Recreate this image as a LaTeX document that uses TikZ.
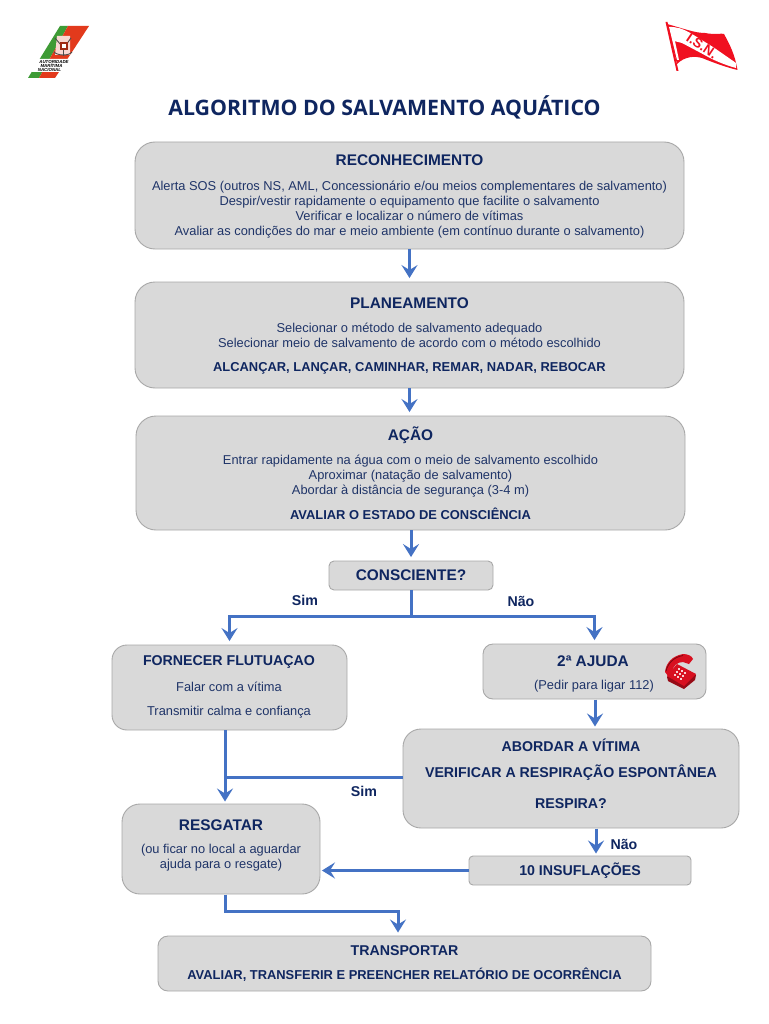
\documentclass[tikz,border=0pt]{standalone}
\usepackage{fontspec}
\setmainfont{Liberation Sans}
\newfontfamily\titlefont{Open Sans}
\usetikzlibrary{arrows.meta}
\definecolor{navy}{HTML}{0F2660}
\definecolor{bodytxt}{HTML}{1F3468}
\definecolor{boxfill}{HTML}{D9D9D9}
\definecolor{boxline}{HTML}{A8A8A8}
\definecolor{flow}{HTML}{4472C4}
\definecolor{lgreen}{HTML}{3E9B35}
\definecolor{lred}{HTML}{E23A1C}
\definecolor{flagred}{HTML}{F01020}
\definecolor{phonered}{HTML}{D81020}
\tikzset{
  x=1pt,y=-1pt,
  box/.style={draw=boxline,line width=0.9pt,fill=boxfill,inner sep=0pt},
  head/.style={inner sep=0pt,text=navy,font=\fontsize{14.2}{16}\selectfont\bfseries},
  headb/.style={inner sep=0pt,text=navy,font=\fontsize{15.4}{16}\selectfont\bfseries},
  sub/.style={inner sep=0pt,text=navy,font=\fontsize{12.9}{14}\selectfont\bfseries},
  txt/.style={inner sep=0pt,text=bodytxt,align=center,font=\fontsize{12.85}{15}\selectfont},
  lab/.style={inner sep=0pt,text=navy,font=\fontsize{14.2}{16}\selectfont\bfseries},
  link/.style={draw=flow,line width=3pt},
  arrow/.style={link,shorten >=3.5pt,-{Stealth[length=13pt,width=16pt,inset=5pt]}},
  lgtxt/.style={inner sep=0pt,text=black,font=\fontsize{4.4}{5}\selectfont\bfseries\itshape},
}
\begin{document}
\begin{tikzpicture}
\useasboundingbox (0,0) rectangle (768,1024);
\fill[white] (0,0) rectangle (768,1024);

% left logo
\fill[lgreen] (60,26) -- (68,26) -- (39,78) -- (28,78) -- cycle;
\fill[lred] (68,26) -- (89,26) -- (55,78) -- (39,78) -- cycle;
\fill[white] (38,59) -- (72,59) -- (67,72) -- (31,72) -- cycle;
\fill[white!80!lred] (57,36) -- (70,36) -- (70,55) -- (55,55) -- cycle;
\draw[black!70,line width=0.9pt] (55,38) -- (61,45) (71,38) -- (66,45);
\draw[black!70,line width=0.9pt] (54,52) .. controls (58,56) and (69,56) .. (72,52);
\draw[black!70,line width=0.9pt] (63.5,47) -- (63.5,56);
\fill[lred!70!black] (59.5,42) rectangle (67.5,50);
\fill[white] (61.5,44) rectangle (65.5,48);
\node[lgtxt] (lg1) at (54,61.5) {AUTORIDADE};
\node[lgtxt] (lg2) at (51.5,65.5) {MARÍTIMA};
\node[lgtxt] (lg3) at (49.5,69.5) {NACIONAL};

% right flag
\fill[flagred] (667,24) .. controls (685,29) and (695,33) .. (705,33) .. controls (715,35) and (722,33) .. (724,34) .. controls (730,45) and (735,55) .. (737.5,70) .. controls (725,67) and (712,62) .. (702,58) .. controls (695,56) and (685,56) .. (677,64) -- cycle;
\fill[white] (670,27) .. controls (676,27) and (682,28) .. (692,34) -- (713,47) -- (736,63) -- (736,68) .. controls (725,65) and (716,61) .. (710,58) -- (699,52) -- (682,43) -- (674,41) -- cycle;
\fill[white] (669,27) -- (672,27) -- (679,60) -- (677,60) -- cycle;
\fill[flagred] (665.5,22) -- (667.5,22) -- (678.5,71) -- (676.5,71) -- cycle;
\node[inner sep=0pt,rotate=-34,text=flagred,font=\fontsize{13.5}{14}\selectfont\bfseries] (fl) at (702,46) {I.S.N.};

% title
\node[inner sep=0pt,text=navy,font=\titlefont\fontsize{21.3}{24}\selectfont\bfseries] (title) at (384.5,107) {ALGORITMO DO SALVAMENTO AQUÁTICO};

% boxes
\node[box,rounded corners=20pt,minimum width=549pt,minimum height=107pt] (rec) at (409.5,195.5) {};
\node[box,rounded corners=20pt,minimum width=549pt,minimum height=106pt] (plan) at (409.5,335) {};
\node[box,rounded corners=20pt,minimum width=549pt,minimum height=114pt] (acao) at (410.5,473) {};
\node[box,rounded corners=5pt,minimum width=164pt,minimum height=29pt] (cons) at (411,575.5) {};
\node[box,rounded corners=15pt,minimum width=235pt,minimum height=85pt] (flut) at (229.5,687.5) {};
\node[box,rounded corners=10pt,minimum width=223pt,minimum height=55pt] (ajuda) at (594.5,671.5) {};
\node[box,rounded corners=18pt,minimum width=336pt,minimum height=99pt] (abord) at (571,778.5) {};
\node[box,rounded corners=18pt,minimum width=198pt,minimum height=90pt] (resg) at (221,849) {};
\node[box,rounded corners=4pt,minimum width=222pt,minimum height=29pt] (ins) at (580,870.5) {};
\node[box,rounded corners=10pt,minimum width=493pt,minimum height=55pt] (trans) at (404.5,963.5) {};

% box texts
\node[headb] (t1) at (409.5,160.5) {RECONHECIMENTO};
\node[txt] (t2) at (409.5,209.5) {Alerta SOS (outros NS, AML, Concessionário e/ou meios complementares de salvamento)\\Despir/vestir rapidamente o equipamento que facilite o salvamento\\Verificar e localizar o número de vítimas\\Avaliar as condições do mar e meio ambiente (em contínuo durante o salvamento)};
\node[headb] (t3) at (409.5,303.5) {PLANEAMENTO};
\node[txt] (t4) at (409.5,335.5) {Selecionar o método de salvamento adequado\\Selecionar meio de salvamento de acordo com o método escolhido};
\node[sub] (t5) at (409.5,368) {ALCANÇAR, LANÇAR, CAMINHAR, REMAR, NADAR, REBOCAR};
\node[headb] (t6) at (410.5,435) {AÇÃO};
\node[txt] (t7) at (410.5,476) {Entrar rapidamente na água com o meio de salvamento escolhido\\Aproximar (natação de salvamento)\\Abordar à distância de segurança (3-4 m)};
\node[sub] (t8) at (410.5,513.5) {AVALIAR O ESTADO DE CONSCIÊNCIA};
\node[headb] (t9) at (411,575.5) {CONSCIENTE?};
\node[head] (t10) at (229,662.5) {FORNECER FLUTUAÇAO};
\node[txt] (t11) at (229,687) {Falar com a vítima};
\node[txt] (t12) at (229,712.5) {Transmitir calma e confiança};
\node[headb] (t13) at (593,661) {2ª AJUDA};
\node[txt] (t14) at (594,686.5) {(Pedir para ligar 112)};
\node[head] (t15) at (571,745) {ABORDAR A VÍTIMA};
\node[head] (t16) at (571,773) {VERIFICAR A RESPIRAÇÃO ESPONTÂNEA};
\node[head] (t17) at (571,804) {RESPIRA?};
\node[headb] (t18) at (221,825) {RESGATAR};
\node[txt] (t19) at (221,858) {(ou ficar no local a aguardar\\ajuda para o resgate)};
\node[head] (t20) at (580,870.5) {10 INSUFLAÇÕES};
\node[head] (t21) at (404.5,951) {TRANSPORTAR};
\node[sub] (t22) at (404.5,975) {AVALIAR, TRANSFERIR E PREENCHER RELATÓRIO DE OCORRÊNCIA};

% phone icon
\fill[phonered!70!black] (667,677) -- (677,665) -- (696,675) -- (695,680) -- (684,689) -- (668,681) -- cycle;
\fill[phonered] (667,676) -- (677,664) -- (696,674) -- (684,686) -- cycle;
\fill[phonered] (665,672) .. controls (666,663) and (672,656) .. (683,654) .. controls (688,654) and (692,656) .. (693,659) -- (689,664) -- (683,662) .. controls (677,662) and (673,666) .. (672,672) -- (668,676) -- cycle;
\draw[phonered!55!black,line width=0.8pt] (666,671) .. controls (668,663) and (674,657) .. (683,655.5);
\foreach \a/\b in {678/668,681/670,684/672,676/671,679/673,682/675,674/674,677/676,680/678}
  \fill[white!80!phonered] (\a,\b) rectangle +(1.6,1.6);

% connectors
\coordinate (split) at (cons.south |- 0,616);
\coordinate (joinup) at (225,730);
\coordinate (joindown) at (225,805);
\coordinate (joinmid) at (225,777);
\coordinate (c1) at (225,894.5);
\coordinate (c2) at (225,911);
\coordinate (c3) at (398,911);
\coordinate (c4) at (398,936);
\coordinate (aj) at (595,699.5);
\coordinate (ab) at (595,730);
\coordinate (ab2) at (596,828.5);
\coordinate (in1) at (596,857);
\draw[arrow] (rec.south) -- (plan.north);
\draw[arrow] (plan.south) -- (plan.south |- acao.north);
\draw[arrow] (cons.north |- acao.south) -- (cons.north);
\draw[link] (cons.south) -- (split);
\draw[arrow] (split) -| (flut.north);
\draw[arrow] (split) -| (ajuda.north);
\draw[arrow] (joinup) -- (joindown);
\draw[link] (abord.west |- joinmid) -- (joinmid);
\draw[arrow] (aj) -- (ab);
\draw[arrow] (ab2) -- (in1);
\draw[arrow,shorten >=1.5pt] (ins.west) -- (resg.east |- ins.west);
\draw[arrow] (c1) -- (c2) -- (c3) -- (c4);

% connector labels
\node[lab] (sim1) at (305,600) {Sim};
\node[lab] (nao1) at (521,601) {Não};
\node[lab] (sim2) at (364,791) {Sim};
\node[lab] (nao2) at (624,844) {Não};
\end{tikzpicture}
\end{document}
